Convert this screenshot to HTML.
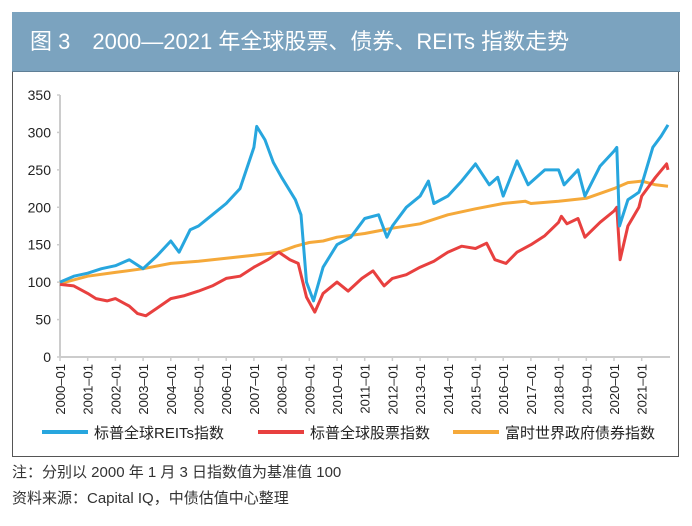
<!DOCTYPE html>
<html><head><meta charset="utf-8">
<style>
body{margin:0;background:#fff;width:692px;height:526px;position:relative;font-family:"Liberation Sans","Noto Sans CJK SC",sans-serif;overflow:hidden}
#title{position:absolute;left:12px;top:12px;width:668px;height:60px;background:#7ba3bf;color:#fff;font-size:22px;line-height:60px;box-sizing:border-box;padding-left:18px;border-bottom:1px solid #5f7f96}
#box{position:absolute;left:12px;top:72px;width:667px;height:385px;border:1px solid #555;border-top:none;box-sizing:border-box}
.note{position:absolute;left:12px;font-size:15px;color:#333}
</style></head><body>
<div id="title">图 3　2000—2021 年全球股票、债券、REITs 指数走势</div>
<div id="box"></div>
<svg id="chart" width="692" height="526" style="position:absolute;left:0;top:0"></svg>
<div class="note" style="top:461px">注：分别以 2000 年 1 月 3 日指数值为基准值 100</div>
<div class="note" style="top:487px">资料来源：Capital IQ，中债估值中心整理</div>
<script>
const yTicks=[0,50,100,150,200,250,300,350];
const xLabels=["2000-01","2001-01","2002-01","2003-01","2004-01","2005-01","2006-01","2007-01","2008-01","2009-01","2010-01","2011-01","2012-01","2013-01","2014-01","2015-01","2016-01","2017-01","2018-01","2019-01","2020-01","2021-01"];
const reitT=[2000,2000.5,2001,2001.5,2002,2002.5,2003,2003.5,2004,2004.3,2004.7,2005,2005.5,2006,2006.5,2007,2007.1,2007.4,2007.7,2008,2008.5,2008.7,2008.9,2009.15,2009.5,2010,2010.5,2011,2011.5,2011.8,2012,2012.5,2013,2013.3,2013.5,2014,2014.5,2015,2015.5,2015.8,2016,2016.5,2016.9,2017.5,2018,2018.2,2018.7,2018.95,2019.5,2020,2020.1,2020.2,2020.5,2020.9,2021,2021.4,2021.7,2021.95];
const reitV=[100,108,112,118,122,130,118,135,155,140,170,175,190,205,225,280,308,290,260,240,210,190,100,75,120,150,160,185,190,160,175,200,215,235,205,215,235,258,230,240,215,262,230,250,250,230,250,215,255,275,280,175,210,220,230,280,295,310];
const stockT=[2000,2000.5,2001,2001.3,2001.7,2002,2002.5,2002.8,2003.1,2003.5,2004,2004.5,2005,2005.5,2006,2006.5,2007,2007.5,2007.9,2008.3,2008.6,2008.9,2009.2,2009.5,2010,2010.4,2010.9,2011.3,2011.7,2012,2012.5,2013,2013.5,2014,2014.5,2015,2015.4,2015.7,2016.1,2016.5,2017,2017.5,2018,2018.1,2018.3,2018.7,2018.95,2019.5,2020,2020.1,2020.22,2020.5,2020.9,2021,2021.5,2021.9,2021.95];
const stockV=[97,95,85,78,75,78,68,58,55,65,78,82,88,95,105,108,120,130,140,130,125,80,60,85,100,88,105,115,95,105,110,120,128,140,148,145,152,130,125,140,150,162,180,188,178,185,160,180,195,200,130,175,200,215,240,258,250];
const bondT=[2000,2001,2002,2003,2004,2005,2006,2007,2007.9,2008.5,2009,2009.5,2010,2011,2012,2013,2014,2015,2016,2016.8,2017,2018,2019,2020,2020.5,2021,2021.5,2021.95];
const bondV=[98,108,113,118,125,128,132,136,140,148,153,155,160,165,172,178,190,198,205,208,205,208,212,225,233,235,230,228];
const NS="http://www.w3.org/2000/svg";
const svg=document.getElementById('chart');
const X0=60,YR=27.7,Y0=357,PY=262/350;
const xs=t=>X0+(t-2000)*YR;
const ys=v=>Y0-v*PY;
function mk(tag,at){const e=document.createElementNS(NS,tag);for(const k in at)e.setAttribute(k,at[k]);svg.appendChild(e);return e;}
let ax=mk('line',{x1:X0,y1:ys(350),x2:X0,y2:Y0,stroke:'#ccc','stroke-width':2});


let bx=mk('line',{x1:X0,y1:Y0,x2:670,y2:Y0,stroke:'#ccc','stroke-width':2});


yTicks.forEach(v=>{
 const t=mk('text',{x:X0-9,y:ys(v)+5,'text-anchor':'end','font-size':14,fill:'#222'});t.textContent=v;
 
 
 mk('line',{x1:X0-3,y1:ys(v),x2:X0,y2:ys(v),stroke:'#ccc','stroke-width':1.5});
});
xLabels.forEach((l,i)=>{
 const x=xs(2000+i);
 mk('line',{x1:x,y1:Y0,x2:x,y2:Y0+4,stroke:'#ccc','stroke-width':1.5});
 const t=mk('text',{x:0,y:0,'text-anchor':'end','font-size':13,fill:'#222',transform:`translate(${x+5},${Y0+7}) rotate(-90)`});t.textContent=l.replace('-','–');
 
 
});
function series(T,V,c,name){
 const d=T.map((t,i)=>(i?'L':'M')+xs(t).toFixed(1)+','+ys(V[i]).toFixed(1)).join('');
 const p=mk('path',{d:d,fill:'none',stroke:c,'stroke-width':3,'stroke-linejoin':'round'});
 
 
}
series(bondT,bondV,'#f5a93a','bond-index-line');
series(stockT,stockV,'#e8403f','stock-index-line');
series(reitT,reitV,'#27a6de','reits-index-line');
const leg=[['标普全球REITs指数','#27a6de',42],['标普全球股票指数','#e8403f',258],['富时世界政府债券指数','#f5a93a',453]];
leg.forEach(l=>{
 const g=mk('line',{x1:l[2],y1:432,x2:l[2]+46,y2:432,stroke:l[1],'stroke-width':4});
 
 
 const t=mk('text',{x:l[2]+52,y:438,'font-size':15,fill:'#222'});t.textContent=l[0];
 
 
});
</script>
</body></html>
